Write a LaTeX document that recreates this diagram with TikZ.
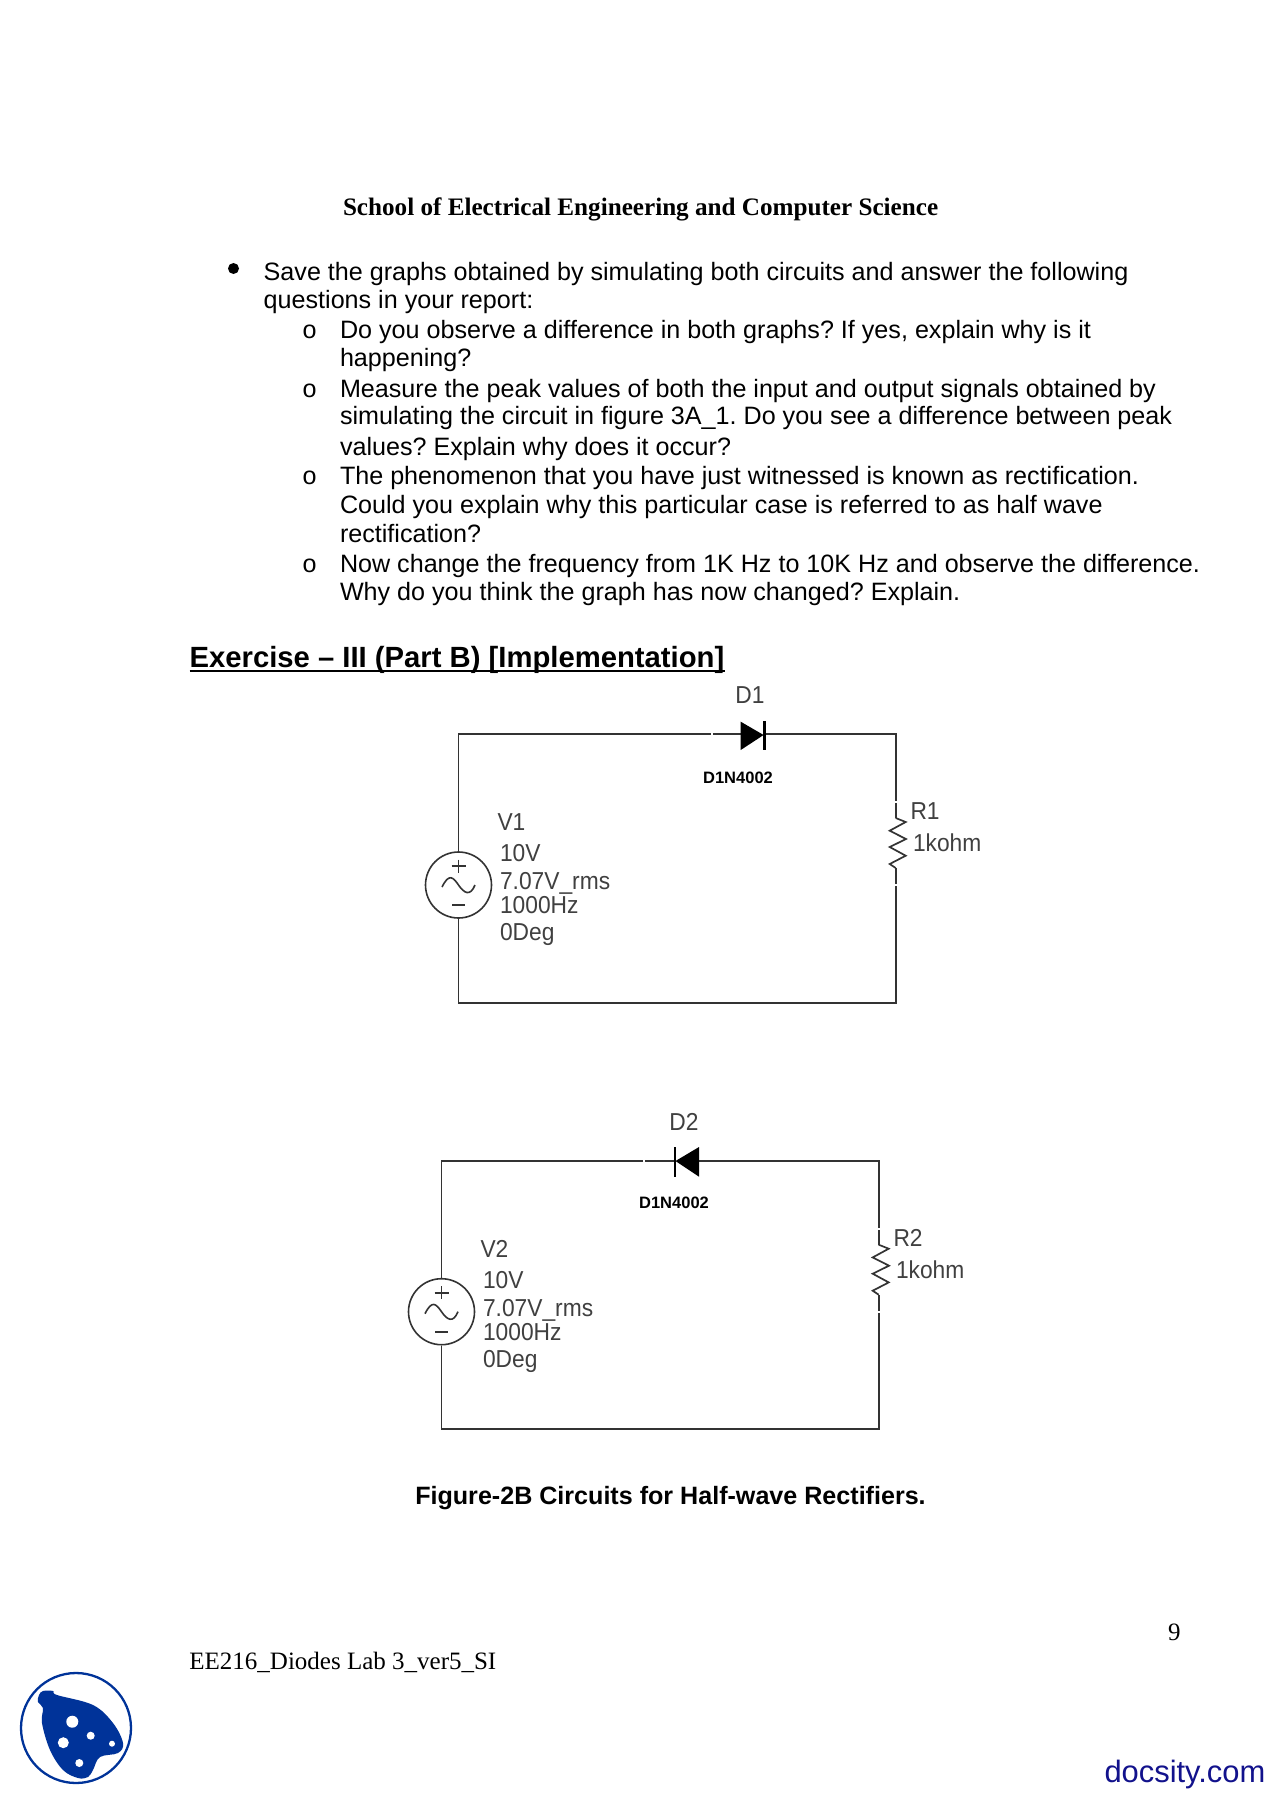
\documentclass[tikz,border=0pt]{standalone}
\usepackage{fontspec}
\setmainfont{Liberation Sans}
\newfontfamily\serifnew{Liberation Serif}
\newfontfamily\schemfont[FakeStretch=0.93]{Liberation Sans}
\definecolor{wire}{HTML}{333333}
\definecolor{logoblue}{HTML}{003399}
\definecolor{docblue}{HTML}{12128C}
\newcommand{\fs}[1]{\fontsize{#1}{#1}\selectfont\frenchspacing}
\tikzset{
  base/.style={anchor=base west,inner sep=0pt,outer sep=0pt},
  body/.style={base,font=\fs{25.13}},
  schem/.style={base,font=\schemfont\fs{24.5},text=black!75},
  wireline/.style={draw=wire,line width=1.9pt},
  gapmark/.style={draw=white,line width=2pt},
  part/.style={anchor=center,inner sep=0pt,font=\fs{16.5}\bfseries}
}
% #1 number, #2 dx, #3 dy, #4 wire end on the left of the diode, #5 on its right, #6 x of the gap
\newcommand{\circuit}[6]{%
\begin{scope}[shift={(#2,#3)}]
  \coordinate (tl#1) at (458.5,734);
  \coordinate (tr#1) at (895.7,734);
  \coordinate (bl#1) at (458.5,1002.7);
  \coordinate (br#1) at (895.7,1002.7);
  \coordinate (rt#1) at (895.7,818);
  \coordinate (rb#1) at (895.7,868);
  \coordinate (da#1) at (#4,734);
  \coordinate (dc#1) at (#5,734);
  \node[circle,draw=wire,line width=1.6pt,minimum size=66pt,inner sep=0pt] (v#1) at (458.5,885) {};
  \draw[wireline] (da#1) -- (tl#1) -- (v#1.north);
  \draw[wireline] (v#1.south) -- (bl#1) -- (br#1) -- (rb#1);
  \draw[wireline] (rt#1) -- (tr#1) -- (dc#1);
  \draw[draw=wire,line width=1.7pt,line join=miter] (rt#1) -- (905.7,822) -- (889.7,830.7) -- (906,839) -- (889.7,847) -- (905.7,855.7) -- (889.7,864) -- (rb#1);
  \draw[gapmark] (#6,731) -- (#6,737);
  \draw[gapmark] (892,802) -- (899,802);
  \draw[gapmark] (892,885) -- (899,885);
  \draw[draw=wire,line width=1.6pt] (451.5,866) -- (465.5,866) (458.5,859.5) -- (458.5,872.5) (452,905) -- (465,905);
  \draw[draw=wire,line width=1.6pt] (442,887) .. controls (449,873) and (453,877) .. (458.5,885) .. controls (464,893) and (470,897) .. (475,885);
  \node[schem] (vn#1) at (497.5,830.5) {V#1};
  \node[schem] (va#1) at (500,861.5) {10V};
  \node[schem] (vr#1) at (500,889.5) {7.07V\_rms};
  \node[schem] (vf#1) at (500,913.5) {1000Hz};
  \node[schem] (vd#1) at (500,940.5) {0Deg};
  \node[schem] (rn#1) at (910.5,819.5) {R#1};
  \node[schem] (rv#1) at (913,851.5) {1kohm};
\end{scope}}
\begin{document}
\begin{tikzpicture}[x=1pt,y=-1pt]
\useasboundingbox (0,0) rectangle (1280,1811);
\fill[white] (0,0) rectangle (1280,1811);
\node[base,font=\serifnew\fs{25.15}\bfseries] (h) at (343,216) {School of Electrical Engineering and Computer Science};
\fill (233.5,268.5) circle[radius=5.5];
\node[body] (l1) at (263.7,280) {Save the graphs obtained by simulating both circuits and answer the following};
\node[body] (l2) at (263.7,308) {questions in your report:};
\node[body] (o1) at (302.5,338) {o};
\node[body] (l3) at (340,338) {Do you observe a difference in both graphs? If yes, explain why is it};
\node[body] (l4) at (340,366.5) {happening?};
\node[body] (o2) at (302.5,397) {o};
\node[body] (l5) at (340,397) {Measure the peak values of both the input and output signals obtained by};
\node[body] (l6) at (340,424.5) {simulating the circuit in figure 3A\_1. Do you see a difference between peak};
\node[body] (l7) at (340,455) {values? Explain why does it occur?};
\node[body] (o3) at (302.5,484) {o};
\node[body] (l8) at (340,484) {The phenomenon that you have just witnessed is known as rectification.};
\node[body] (l9) at (340,513.5) {Could you explain why this particular case is referred to as half wave};
\node[body] (l10) at (340,542.5) {rectification?};
\node[body] (o4) at (302.5,572.5) {o};
\node[body] (l11) at (340,572.5) {Now change the frequency from 1K Hz to 10K Hz and observe the difference.};
\node[body] (l12) at (340,600.5) {Why do you think the graph has now changed? Explain.};
\node[base,font=\fs{29.25}\bfseries] (ex) at (189.6,667) {Exercise – III (Part B) [Implementation]};
\draw[line width=2pt] (189.6,670.5) -- (725,670.5);
\circuit{1}{0}{0}{740.7}{764}{711.5}
\circuit{2}{-17}{426.7}{691.7}{716}{661}
% D1
\fill[black] (740.7,721.7) -- (763.6,735) -- (740.7,750) -- cycle;
\draw[line width=2.4pt] (764.4,721) -- (764.4,750);
\node[schem,anchor=center] (dn1) at (750,695.5) {D1};
\node[part] (dm1) at (738,777.5) {D1N4002};
% D2
\fill[black] (699,1147) -- (675.5,1161) -- (699,1176.7) -- cycle;
\draw[line width=2.4pt] (674.7,1147) -- (674.7,1177);
\node[schem,anchor=center] (dn2) at (684,1122) {D2};
\node[part] (dm2) at (674,1202.5) {D1N4002};
\node[anchor=center,inner sep=0pt,font=\fs{25.1}\bfseries] (cap) at (670.5,1498) {Figure-2B Circuits for Half-wave Rectifiers.};
\node[base,font=\serifnew\fs{25}] (pg) at (1168,1640.5) {9};
\node[base,font=\serifnew\fs{25}] (ft) at (189.4,1669) {EE216\_Diodes Lab 3\_ver5\_SI};
\node[base,font=\fs{30.9},text=docblue] (dc) at (1104.5,1782) {docsity.com};
% logo
\draw[logoblue,line width=2.3pt] (76,1728) circle[radius=55];
\fill[logoblue] plot[smooth cycle,tension=0.6] coordinates {(39,1695) (43,1691) (53,1691) (57,1695) (93,1705) (113,1723) (123,1743) (118,1753) (100,1757) (93,1770) (88,1777) (78,1778) (63,1770) (50,1750) (42,1723) (43,1708) (38,1702)};
\fill[white] (72.3,1721.7) circle[radius=6] (90.7,1735.7) circle[radius=4] (63.3,1742.7) circle[radius=5.5] (112,1743.7) circle[radius=3] (79.3,1763) circle[radius=4];
\end{tikzpicture}
\end{document}
